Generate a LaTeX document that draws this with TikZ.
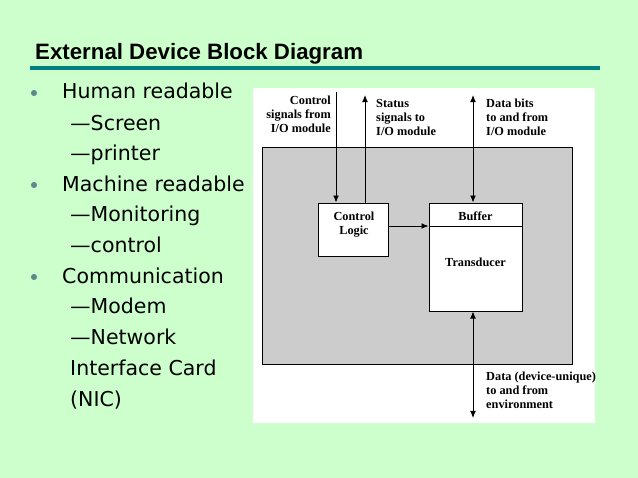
\documentclass[tikz,border=0pt]{standalone}
\usepackage{fontspec}
\setmainfont{Liberation Serif}
\newfontfamily\slidefont{DejaVu Sans}
\newfontfamily\titlefont{Liberation Sans}
\usetikzlibrary{positioning, arrows.meta}
\definecolor{slidegreen}{HTML}{CCFFCC}
\definecolor{titleteal}{HTML}{008080}
\definecolor{bulletgray}{HTML}{5A8A8A}
\definecolor{boxgray}{HTML}{CCCCCC}

\begin{document}
\begin{tikzpicture}[x=0.03cm, y=-0.03cm,
		bullet/.style={anchor=base west, font=\slidefont\fontsize{17.5}{19}\selectfont, inner sep=0pt},
		lbl/.style={font=\bfseries\fontsize{10.5}{11.8}\selectfont, align=left, inner sep=0pt},
		sig/.style={thick, -{Latex[length=6pt, width=5pt]}}]
	\def\slideW{638};
	\def\slideH{478};

	% slide background and title
	\fill [slidegreen] (0,0) rectangle (\slideW,\slideH);
	\node [anchor=base west, inner sep=0pt, font=\titlefont\bfseries\fontsize{19}{21}\selectfont] (title) at (35,60) {External Device Block Diagram};
	\draw [titleteal, line width=3pt] (30,68) -- (600,68);

	% bullet list
	\foreach \y/\t in {99/Human readable, 191/Machine readable, 283/Communication} {
		\fill [bulletgray] (34,\y-6) circle (2.6pt);
		\node [bullet] at (62,\y) {\t};
	}
	\foreach \y/\t in {130/Screen, 160/printer, 221/Monitoring, 252/control, 313/Modem, 344/Network}
		\node [bullet] at (70,\y) {—\t};
	\node [bullet] at (70,375) {Interface Card};
	\node [bullet] at (70,406) {(NIC)};

	% diagram panel
	\fill [white] (253,88) rectangle (595,423);
	\draw [thick, fill=boxgray] (262,147) rectangle (572,364);

	\node [draw, thick, fill=white, minimum width=2.1cm, minimum height=1.59cm] (logic) at (353,229.5) {};
	\node [lbl, align=center] (logicLbl) at (354,225) {Control\\Logic};
	\node [draw, thick, fill=white, minimum width=2.79cm, minimum height=3.24cm] (device) at (475.5,257) {};
	\draw [thick] (429,226) -- (522,226);
	\node [lbl] (buffer) at (475.5,216) {Buffer};
	\node [lbl] (transducer) at (475.5,262) {Transducer};

	% connectors
	\coordinate (ctrlIn) at (336,92);
	\coordinate (statOut) at (365,95);
	\coordinate (dataTop) at (473,95);
	\coordinate (dataBot) at (473,418);
	\draw [sig] (ctrlIn) -- (ctrlIn |- logic.north);
	\draw [sig] (statOut |- logic.north) -- (statOut);
	\draw [sig] (logic.east |- 0,226) -- (device.west |- 0,226);
	\draw [sig, {Latex[length=6pt, width=5pt]}-{Latex[length=6pt, width=5pt]}] (dataTop) -- (dataTop |- device.north);
	\draw [sig, {Latex[length=6pt, width=5pt]}-{Latex[length=6pt, width=5pt]}] (dataTop |- device.south) -- (dataBot);

	% labels
	\node [lbl, align=right, anchor=north east] (ctrlLbl) at (331,96) {Control\\signals from\\I/O module};
	\node [lbl, anchor=north west] (statLbl) at (376,99) {Status\\signals to\\I/O module};
	\node [lbl, anchor=north west] (dataLbl) at (486,99) {Data bits\\to and from\\I/O module};
	\node [lbl, anchor=north west] (envLbl) at (486,372) {Data (device-unique)\\to and from\\environment};
\end{tikzpicture}
\end{document}
